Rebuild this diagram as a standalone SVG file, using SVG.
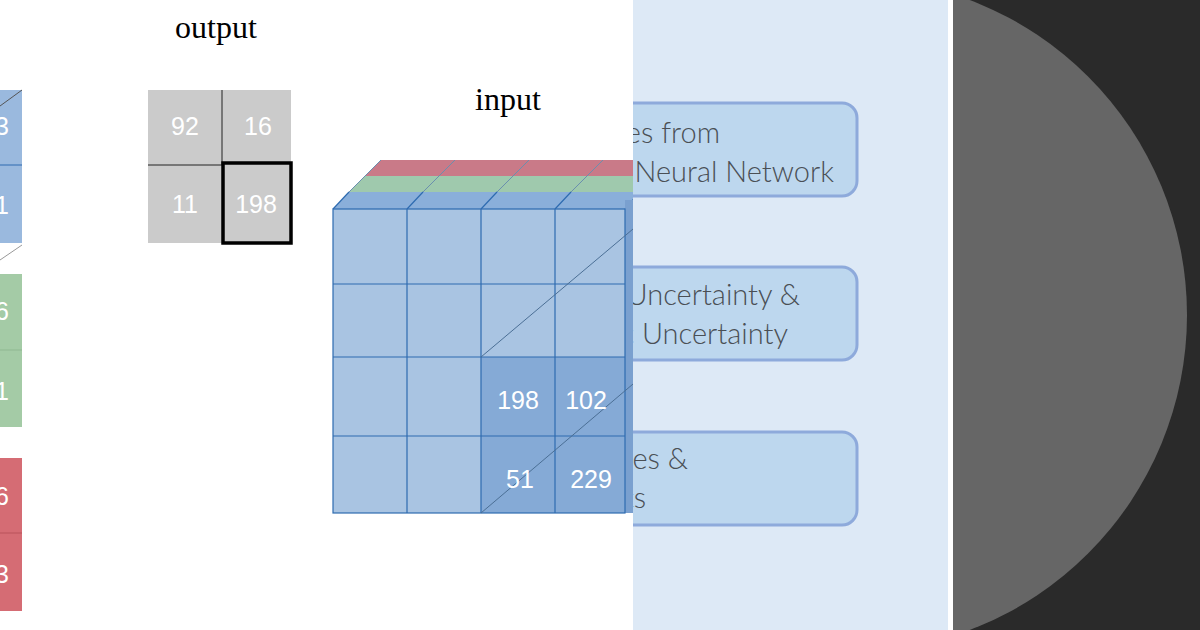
<svg xmlns="http://www.w3.org/2000/svg" width="1200" height="630" viewBox="0 0 1200 630">
<style>
.num{font-family:"Liberation Sans",Arial,sans-serif;font-size:25px;fill:#fff;text-anchor:middle}
.ttl{font-family:"Liberation Serif","Times New Roman",serif;font-size:32px;fill:#000;text-anchor:middle}
.bt{font-family:Lato,"Open Sans",sans-serif;font-weight:300;font-size:29px;fill:#4a4f55;text-anchor:end}
.bx{fill:#bdd7ee;stroke:#8eaadb;stroke-width:3}
.cl{stroke:#2e6bb0;stroke-width:1.2;fill:none}
</style>
<defs><clipPath id="pc"><rect x="633" y="0" width="315" height="630"/></clipPath></defs>
<rect width="1200" height="630" fill="#fff"/>
<g id="left-partial">
<rect x="0" y="90" width="22" height="153" fill="#9ab9de"/>
<line x1="0" y1="165" x2="22" y2="165" stroke="#2e6bb0"/>
<line x1="0" y1="106" x2="22" y2="90" stroke="#555" stroke-width="1"/>
<line x1="0" y1="260" x2="22" y2="245" stroke="#999" stroke-width="1"/>
<text class="num" x="2" y="135">3</text><text class="num" x="2" y="214">1</text>
<rect x="0" y="274" width="22" height="153" fill="#a4cba6"/>
<line x1="0" y1="350" x2="22" y2="350" stroke="#8fb891"/>
<text class="num" x="2" y="320">6</text><text class="num" x="2" y="400">1</text>
<rect x="0" y="458" width="22" height="153" fill="#d56c74"/>
<line x1="0" y1="533" x2="22" y2="533" stroke="#b9525a"/>
<text class="num" x="2" y="505">6</text><text class="num" x="2" y="583">3</text>
</g>
<g id="output">
<text class="ttl" x="216" y="38">output</text>
<rect x="148" y="90" width="143" height="153" fill="#cbcbcb"/>
<line x1="222" y1="90" x2="222" y2="165" stroke="#222"/>
<line x1="148" y1="165" x2="222" y2="165" stroke="#222"/>
<rect x="223" y="163" width="68" height="80" fill="none" stroke="#000" stroke-width="3.5"/>
<text class="num" x="185" y="135">92</text><text class="num" x="258" y="135">16</text>
<text class="num" x="185" y="213">11</text><text class="num" x="256" y="213">198</text>
</g>
<g id="input">
<text class="ttl" x="508" y="110">input</text>
<polygon points="381,160 640,160 640,176 365,176" fill="#c97a88"/>
<polygon points="365,176 640,176 640,192 349,192" fill="#9fc9ad"/>
<polygon points="349,192 640,192 640,209 333,209" fill="#8aafda"/>
<g stroke="#6a8fae" stroke-width="1" fill="none">
<line x1="365" y1="176" x2="381" y2="160"/><line x1="439" y1="176" x2="455" y2="160"/><line x1="513" y1="176" x2="529" y2="160"/><line x1="587" y1="176" x2="603" y2="160"/>
<line x1="349" y1="192" x2="365" y2="176"/><line x1="423" y1="192" x2="439" y2="176"/><line x1="497" y1="192" x2="513" y2="176"/><line x1="571" y1="192" x2="587" y2="176"/>
</g>
<g class="cl"><line x1="333" y1="209" x2="349" y2="192"/><line x1="407" y1="209" x2="423" y2="192"/><line x1="481" y1="209" x2="497" y2="192"/><line x1="555" y1="209" x2="571" y2="192"/><line x1="625" y1="209" x2="640" y2="192"/></g>
<rect x="333" y="209" width="292" height="304" fill="#a9c4e2"/>
<rect x="481" y="357" width="144" height="156" fill="#85aad6"/>
<rect x="625" y="200" width="8" height="313" fill="#7aa0cf"/>
<g class="cl">
<rect x="333" y="209" width="292" height="304"/>
<line x1="407" y1="209" x2="407" y2="513"/><line x1="481" y1="209" x2="481" y2="513"/><line x1="555" y1="209" x2="555" y2="513"/>
<line x1="333" y1="284" x2="625" y2="284"/><line x1="333" y1="357" x2="625" y2="357"/><line x1="333" y1="436" x2="625" y2="436"/>
</g>
<line x1="481" y1="357" x2="633" y2="229" stroke="#4b6f95" stroke-width="1"/>
<line x1="481" y1="513" x2="633" y2="384" stroke="#4b6f95" stroke-width="1"/>
<text class="num" x="518" y="409">198</text><text class="num" x="586" y="409">102</text>
<text class="num" x="520" y="488">51</text><text class="num" x="591" y="488">229</text>
</g>
<g id="panel">
<rect x="633" y="0" width="315" height="630" fill="#dde9f6"/>
<g clip-path="url(#pc)">
<g id="box1"><rect class="bx" x="560" y="103" width="297" height="93" rx="15"/>
<text class="bt" x="720" y="143">Features from</text><text class="bt" x="834" y="182">Convolutional Neural Network</text></g>
<g id="box2"><rect class="bx" x="560" y="267" width="297" height="93" rx="15"/>
<text class="bt" x="800" y="305">Aleatoric Uncertainty &amp;</text><text class="bt" x="788" y="344">Epistemic Uncertainty</text></g>
<g id="box3"><rect class="bx" x="560" y="432" width="297" height="93" rx="15"/>
<text class="bt" x="688" y="469">Samples &amp;</text><text class="bt" x="646" y="508">Results</text></g>
</g>
</g>
<g id="dark">
<rect x="953" y="0" width="247" height="630" fill="#2a2a2a"/>
<clipPath id="dc"><rect x="953" y="0" width="247" height="630"/></clipPath>
<circle cx="850" cy="315" r="337" fill="#666" clip-path="url(#dc)"/>
</g>
</svg>
